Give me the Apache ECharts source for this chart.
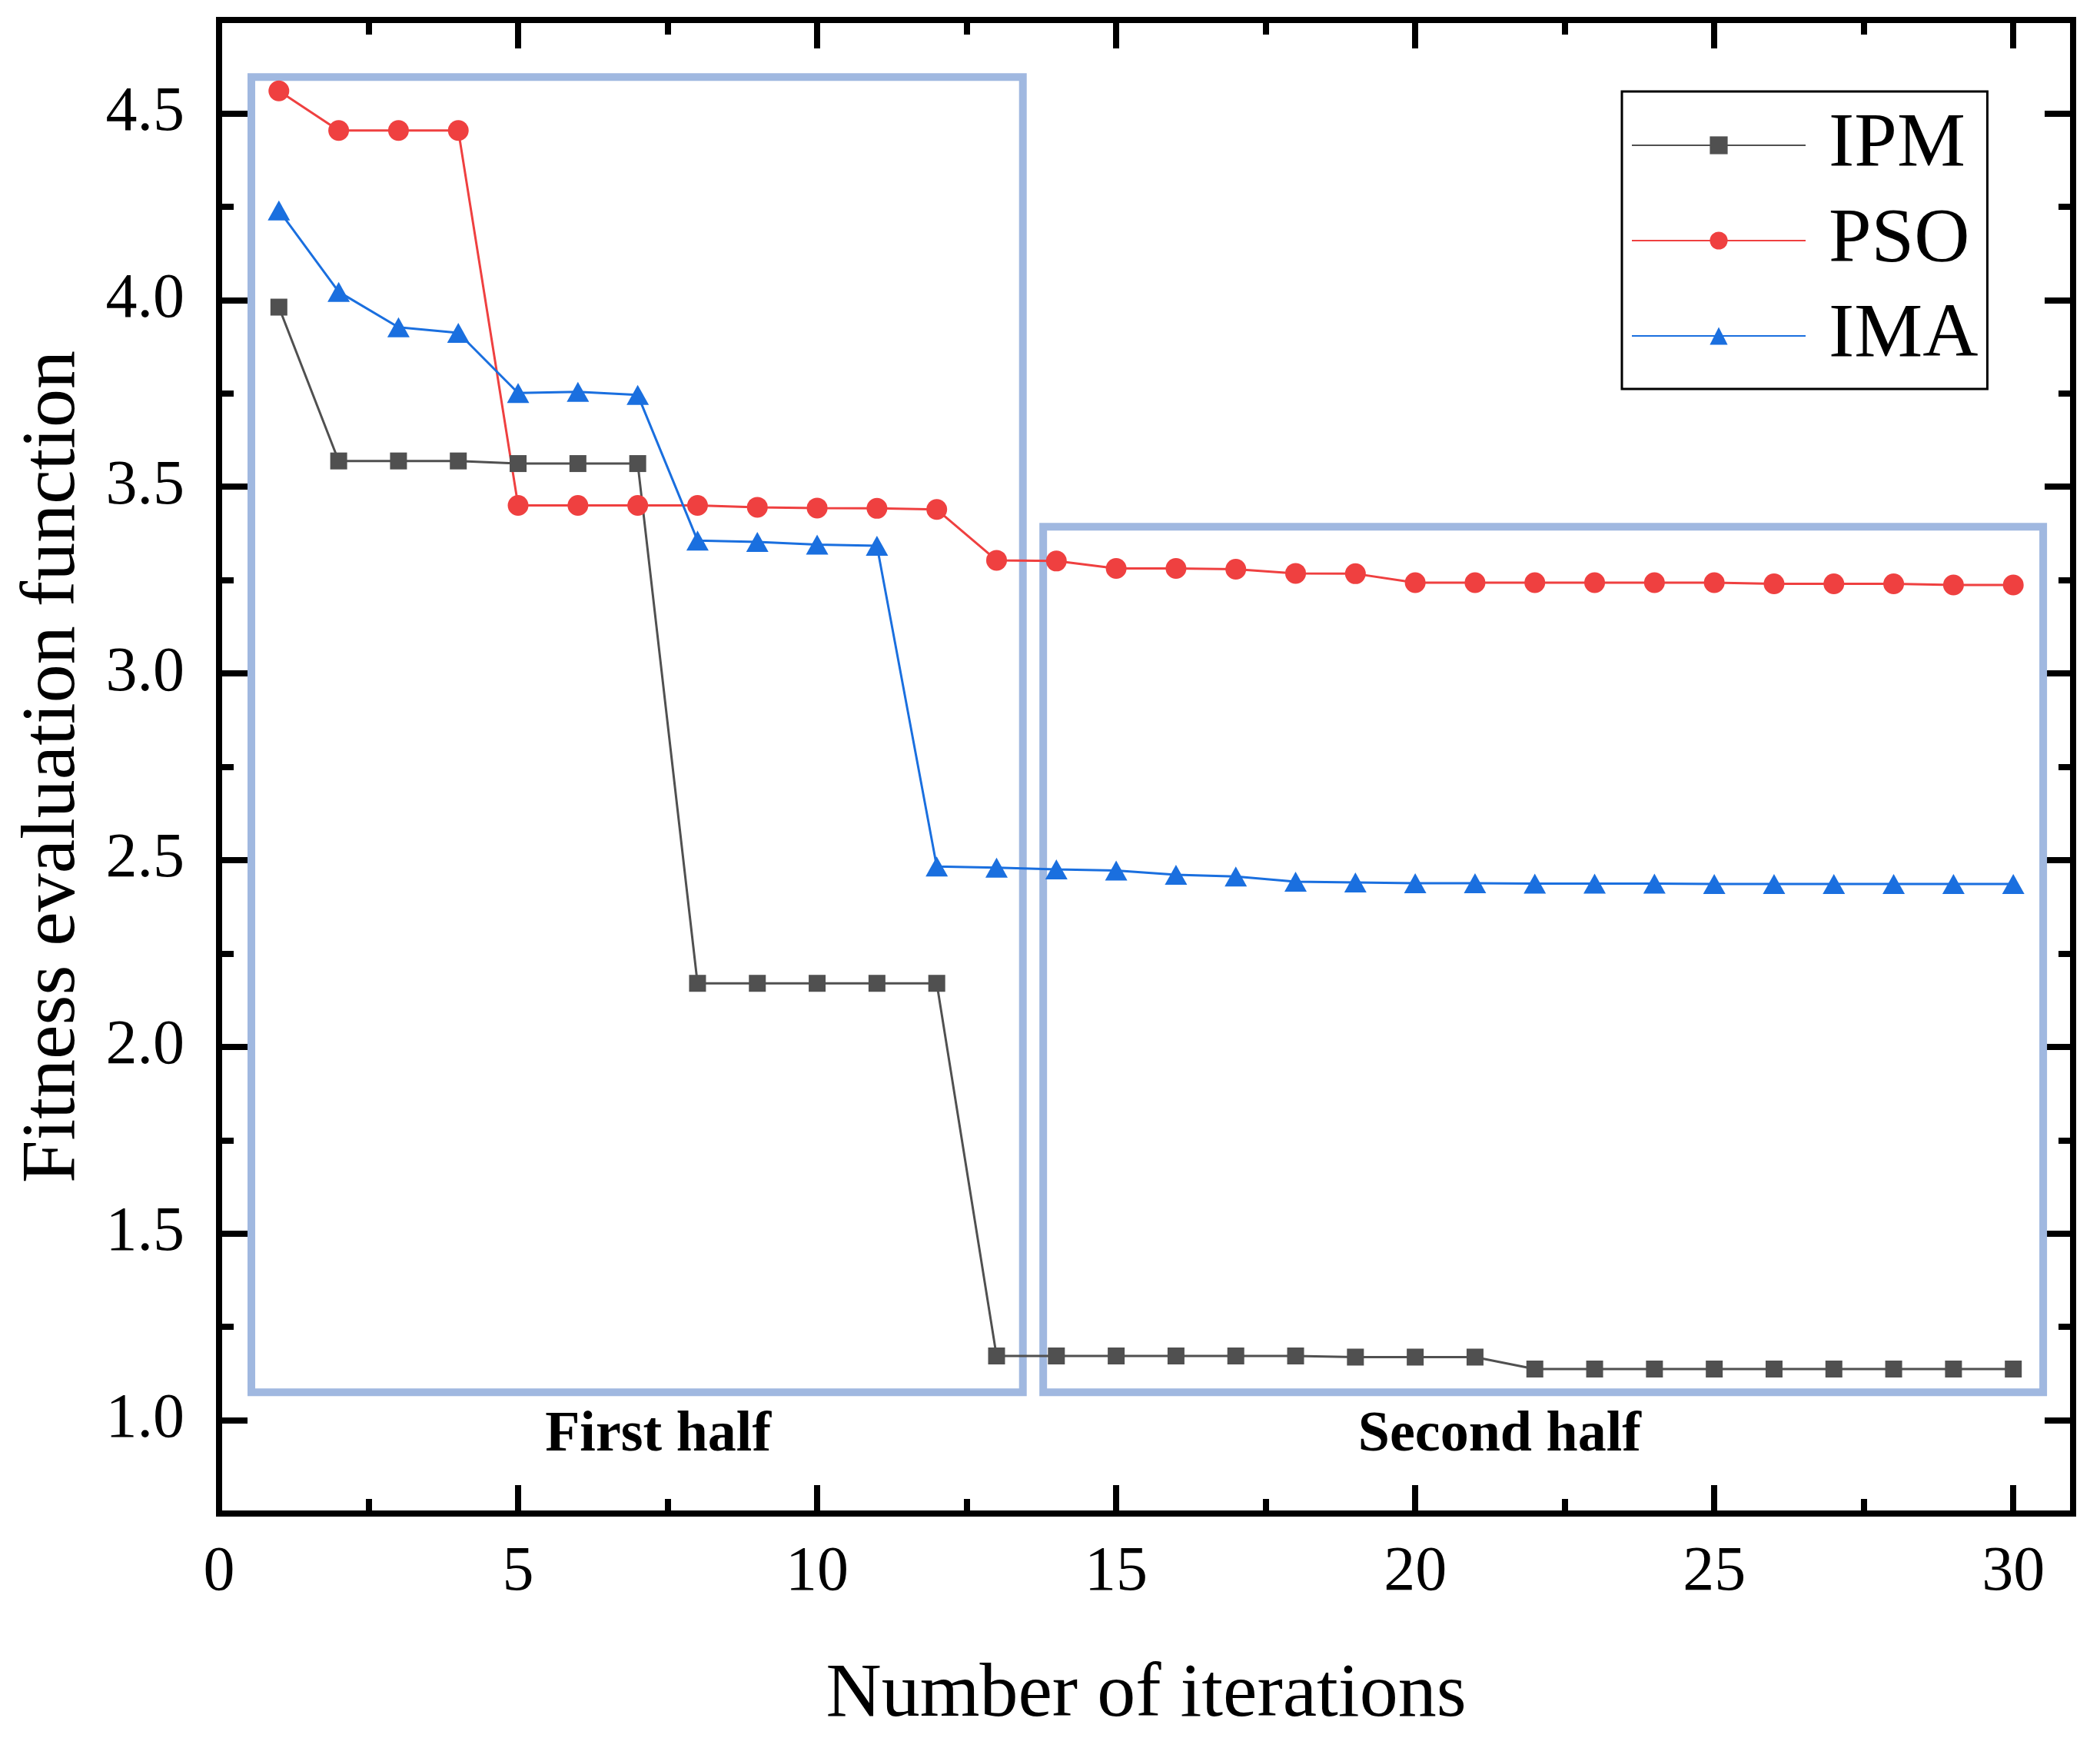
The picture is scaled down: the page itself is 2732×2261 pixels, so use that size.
<!DOCTYPE html>
<html>
<head>
<meta charset="UTF-8">
<title>Fitness evaluation function</title>
<script src="https://cdn.jsdelivr.net/npm/echarts@6/dist/echarts.min.js"></script>
<style>
  body { margin: 0; background: #fff; }
  #chart { width: 2732px; height: 2261px; }
</style>
</head>
<body>
<div id="chart"></div>
<script>
// data
var iterations = [1, 2, 3, 4, 5, 6, 7, 8, 9, 10, 11, 12, 13, 14, 15,
                  16, 17, 18, 19, 20, 21, 22, 23, 24, 25, 26, 27, 28, 29, 30];
var ipm = [3.981, 3.569, 3.569, 3.569, 3.562, 3.562, 3.562, 2.170, 2.170, 2.170,
           2.170, 2.170, 1.172, 1.172, 1.172, 1.172, 1.172, 1.172, 1.169, 1.169,
           1.169, 1.137, 1.137, 1.137, 1.137, 1.137, 1.137, 1.137, 1.137, 1.137];
var pso = [4.560, 4.454, 4.454, 4.454, 3.450, 3.450, 3.450, 3.450, 3.445, 3.443,
           3.442, 3.439, 3.303, 3.301, 3.281, 3.281, 3.279, 3.268, 3.267, 3.243,
           3.243, 3.243, 3.243, 3.243, 3.243, 3.240, 3.240, 3.240, 3.237, 3.237];
var ima = [4.240, 4.022, 3.927, 3.912, 3.751, 3.754, 3.746, 3.356, 3.352, 3.345,
           3.342, 2.483, 2.480, 2.475, 2.472, 2.461, 2.456, 2.442, 2.440, 2.438,
           2.438, 2.437, 2.437, 2.437, 2.436, 2.436, 2.436, 2.436, 2.436, 2.436];

var xMajorTicks = [0, 5, 10, 15, 20, 25, 30];
var xMinorTicks = [2.5, 7.5, 12.5, 17.5, 22.5, 27.5];
var yMajorTicks = [1.0, 1.5, 2.0, 2.5, 3.0, 3.5, 4.0, 4.5];
var yMinorTicks = [1.25, 1.75, 2.25, 2.75, 3.25, 3.75, 4.25];

// highlight boxes (data coords: [x, y] corners) and their captions
var boxFirst = [[0.54, 4.597], [13.44, 1.075]];
var boxSecond = [[13.78, 3.393], [30.50, 1.075]];
var captionNames = ['First half', 'Second half'];
var captionCoords = [[7.34, 0.959], [21.41, 0.959]];

var FONT = 'Liberation Serif';

function pairs(ys) {
  return iterations.map(function (x, i) { return [x, ys[i]]; });
}

// one axis per tick set; the extra ones only draw ticks on top of the main one
function xAxisDef(pos, ticks, len, main) {
  return {
    type: 'value', position: pos, min: 0, max: 31,
    splitLine: { show: false },
    axisLine: { show: main, onZero: false, lineStyle: { color: '#000', width: 8 } },
    axisTick: { show: true, inside: true, length: len, customValues: ticks,
                lineStyle: { color: '#000', width: 8 } },
    axisLabel: main ? { show: true, customValues: xMajorTicks, margin: 36,
                        fontFamily: FONT, fontSize: 82, color: '#000' }
                    : { show: false },
    name: main ? 'Number of iterations' : '',
    nameLocation: 'middle', nameGap: 187,
    nameTextStyle: { fontFamily: FONT, fontSize: 100, color: '#000' }
  };
}

function yAxisDef(pos, ticks, len, main) {
  return {
    type: 'value', position: pos, min: 0.75, max: 4.75,
    splitLine: { show: false },
    axisLine: { show: main, onZero: false, lineStyle: { color: '#000', width: 8 } },
    axisTick: { show: true, inside: true, length: len, customValues: ticks,
                lineStyle: { color: '#000', width: 8 } },
    axisLabel: main ? { show: true, customValues: yMajorTicks, margin: 45,
                        fontFamily: FONT, fontSize: 82, color: '#000',
                        formatter: function (v) { return v.toFixed(1); } }
                    : { show: false },
    name: main ? 'Fitness evaluation function' : '',
    nameLocation: 'middle', nameGap: 165,
    nameTextStyle: { fontFamily: FONT, fontSize: 100, color: '#000' }
  };
}

var chart = echarts.init(document.getElementById('chart'));

var option = {
  animation: false,
  backgroundColor: '#fff',
  grid: { left: 285, right: 35, top: 26, bottom: 287,
          show: true, borderColor: '#000', borderWidth: 8 },
  legend: {
    orient: 'vertical', left: 2110, top: 119,
    padding: [20, 12, 19, 12], itemGap: 24,
    itemWidth: 226, itemHeight: 29,
    borderColor: '#000', borderWidth: 3,
    formatter: ' {name}',
    textStyle: { fontFamily: FONT, fontSize: 100, color: '#000' },
    data: ['IPM', 'PSO', 'IMA']
  },
  xAxis: [
    xAxisDef('bottom', xMajorTicks, 37, true),
    xAxisDef('bottom', xMinorTicks, 19, false),
    xAxisDef('top', xMajorTicks, 37, false),
    xAxisDef('top', xMinorTicks, 19, false)
  ],
  yAxis: [
    yAxisDef('left', yMajorTicks, 37, true),
    yAxisDef('left', yMinorTicks, 19, false),
    yAxisDef('right', yMajorTicks, 37, false),
    yAxisDef('right', yMinorTicks, 19, false)
  ],
  series: [
    {
      name: 'IPM', type: 'line', data: pairs(ipm),
      symbol: 'rect', symbolSize: 22,
      lineStyle: { color: '#505050', width: 3 },
      itemStyle: { color: '#505050' },
      markArea: {
        silent: true,
        itemStyle: { color: 'rgba(0,0,0,0)', borderColor: '#a0b8e0', borderWidth: 10 },
        data: [
          [{ coord: boxFirst[0] }, { coord: boxFirst[1] }],
          [{ coord: boxSecond[0] }, { coord: boxSecond[1] }]
        ]
      },
      markPoint: {
        silent: true,
        symbol: 'rect', symbolSize: 1,
        itemStyle: { color: 'rgba(0,0,0,0)' },
        label: { show: true, position: 'inside', formatter: '{b}',
                 fontFamily: FONT, fontWeight: 'bold', fontSize: 74, color: '#000' },
        data: captionNames.map(function (n, i) {
          return { name: n, coord: captionCoords[i] };
        })
      }
    },
    {
      name: 'PSO', type: 'line', data: pairs(pso),
      symbol: 'circle', symbolSize: 27,
      lineStyle: { color: '#ef4040', width: 3 },
      itemStyle: { color: '#ef4040' }
    },
    {
      name: 'IMA', type: 'line', data: pairs(ima),
      symbol: 'triangle', symbolSize: [29, 26],
      lineStyle: { color: '#1a6fdf', width: 3 },
      itemStyle: { color: '#1a6fdf' }
    }
  ]
};

chart.setOption(option);
</script>
</body>
</html>
